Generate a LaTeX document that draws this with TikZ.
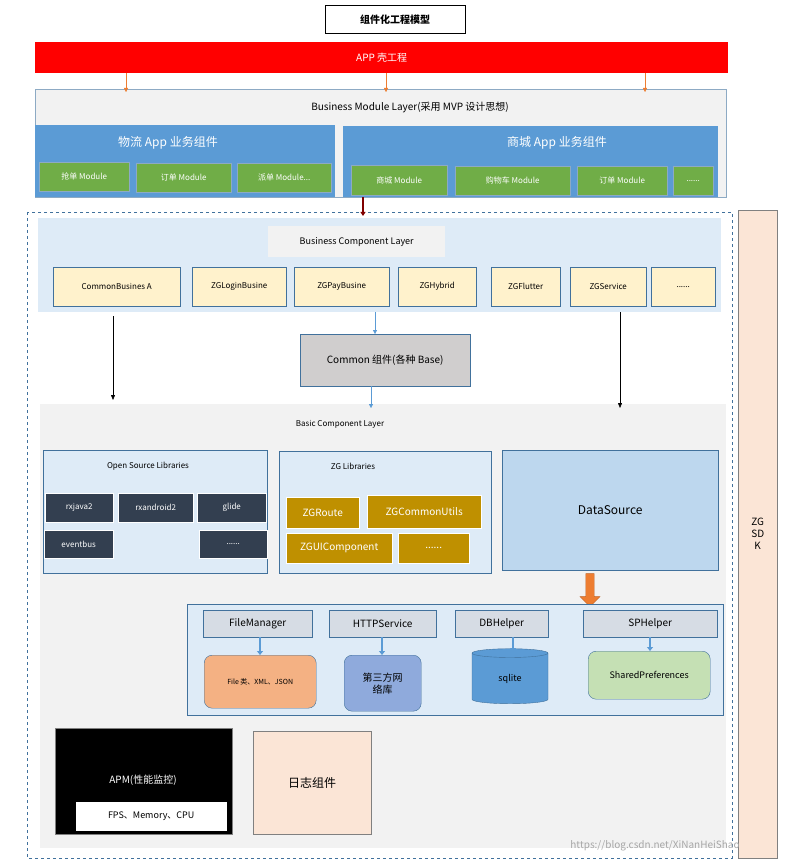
\documentclass[tikz,border=0pt]{standalone}
\usepackage{fontspec}
\setmainfont{Noto Sans CJK SC}
\usetikzlibrary{positioning,shapes.geometric,shapes.arrows,arrows.meta}
\definecolor{appred}{HTML}{FF0000}
\definecolor{layergray}{HTML}{F2F2F2}
\definecolor{bizblue}{HTML}{5B9BD5}
\definecolor{modgreen}{HTML}{70AD47}
\definecolor{paleblue}{HTML}{DEEBF7}
\definecolor{midblue}{HTML}{BDD7EE}
\definecolor{edgeblue}{HTML}{41719C}
\definecolor{paleyellow}{HTML}{FFF2CC}
\definecolor{darkslate}{HTML}{333F50}
\definecolor{gold}{HTML}{BF9000}
\definecolor{peach}{HTML}{FBE5D6}
\definecolor{helpergray}{HTML}{D6DCE4}
\definecolor{commongray}{HTML}{D0CECE}
\definecolor{arroworange}{HTML}{ED7D31}
\definecolor{spgreen}{HTML}{C5E0B4}
\definecolor{netblue}{HTML}{8FAADC}
\definecolor{fileorange}{HTML}{F4B183}
\tikzset{
  box/.style={draw=edgeblue, anchor=north west, inner sep=1pt, font=\small, align=center},
  module/.style={box, fill=modgreen, draw=edgeblue!60, text=white, font=\footnotesize},
  bizcomp/.style={box, fill=paleyellow, font=\footnotesize},
  oss/.style={box, fill=darkslate, draw=white, text=white, font=\footnotesize},
  zglib/.style={box, fill=gold, draw=white, text=white, font=\normalsize},
  helper/.style={box, fill=helpergray, font=\normalsize},
  store/.style={box, rounded corners=8pt},
  down/.style={-{Triangle[length=4pt,width=6pt]}, line width=2pt, draw=bizblue},
  small/.style={-{Triangle[length=4pt,width=4pt]}, draw=arroworange},
}
\begin{document}
\begin{tikzpicture}[x=1pt,y=-1pt]
    \useasboundingbox (0,0) rectangle (789,866);
    % top
    \node[box, draw=black, font=\bfseries, minimum width=140pt, minimum height=28pt] (title) at (325,5) {组件化工程模型};
    \node[box, draw=none, fill=appred, text=white, font=\normalsize, minimum width=693pt, minimum height=31pt] (app) at (35,42) {APP 壳工程};
    \node[box, fill=layergray, draw=edgeblue!60, minimum width=691pt, minimum height=108pt] (bml) at (35,89) {};
    \node[font=\normalsize] at (410,107) {Business Module Layer(采用 MVP 设计思想)};
    \foreach \x in {126,386,645}
        \draw[small] (\x,73) -- (\x,92);
    % business modules
    \node[box, fill=bizblue, draw=none, minimum width=300pt, minimum height=72pt] (wl) at (35,125) {};
    \node[text=white, font=\large] at (168,143) {物流 App 业务组件};
    \node[module, minimum width=90pt, minimum height=29pt] (qd) at (39,162) {抢单 Module};
    \node[module, minimum width=95pt, minimum height=29pt] (dd) at (136,163) {订单 Module};
    \node[module, minimum width=94pt, minimum height=29pt] (pd) at (237,163) {派单 Module...};
    \node[box, fill=bizblue, draw=none, minimum width=375pt, minimum height=71pt] (sc) at (343,126) {};
    \node[text=white, font=\large] at (557,143) {商城 App 业务组件};
    \node[module, minimum width=96pt, minimum height=30pt] (scm) at (351,165) {商城 Module};
    \node[module, minimum width=115pt, minimum height=29pt] (gwc) at (455,166) {购物车 Module};
    \node[module, minimum width=90pt, minimum height=29pt] (ddm) at (577,166) {订单 Module};
    \node[module, minimum width=40pt, minimum height=29pt] (more1) at (673,166) {......};
    % sdk frame
    \draw[dashed, edgeblue] (27,212) rectangle (732,858);
    \node[box, fill=peach, draw=gray, minimum width=39pt, minimum height=648pt] (sdk) at (738,210) {};
    \node[align=center, font=\normalsize] at (sdk.center) {ZG\\SD\\K};
    \draw[-{Triangle[length=4pt,width=5pt]}, line width=1.5pt, draw=red!50!black] (363,197) -- (363,216);
    % business component layer
    \node[box, fill=paleblue, draw=none, minimum width=683pt, minimum height=94pt] (bcl) at (38,218) {};
    \node[box, fill=layergray, draw=none, font=\small, minimum width=177pt, minimum height=31pt] (bclt) at (268,226) {Business Component Layer};
    \node[bizcomp, minimum width=127pt, minimum height=39pt] (cba) at (53,267) {CommonBusines A};
    \node[bizcomp, minimum width=94pt, minimum height=39pt] (login) at (192,267) {ZGLoginBusine};
    \node[bizcomp, minimum width=95pt, minimum height=39pt] (pay) at (294,267) {ZGPayBusine};
    \node[bizcomp, minimum width=78pt, minimum height=39pt] (hyb) at (398,267) {ZGHybrid};
    \node[bizcomp, minimum width=69pt, minimum height=39pt] (flt) at (491,267) {ZGFlutter};
    \node[bizcomp, minimum width=76pt, minimum height=39pt] (svc) at (570,267) {ZGService};
    \node[bizcomp, minimum width=64pt, minimum height=39pt] (more2) at (651,267) {......};
    \node[box, fill=commongray, font=\normalsize, minimum width=170pt, minimum height=52pt] (common) at (300,334) {Common 组件(各种 Base)};
    \draw[-{Triangle[length=4pt,width=4pt]}, bizblue] (375,312) -- (375,334);
    % basic component layer
    \node[box, fill=layergray, draw=none, minimum width=686pt, minimum height=444pt] (basic) at (40,404) {};
    \node[font=\footnotesize] at (340,424) {Basic Component Layer};
    \draw[-{Triangle[length=5pt,width=4pt]}] (113,316) -- (113,400);
    \draw[-{Triangle[length=5pt,width=4pt]}] (620,312) -- (620,408);
    \draw[-{Triangle[length=4pt,width=4pt]}, bizblue] (371,386) -- (371,408);
    \node[box, fill=paleblue, minimum width=224pt, minimum height=123pt] (osl) at (43,450) {};
    \node[font=\footnotesize] at (148,466) {Open Source Libraries};
    \node[oss, minimum width=68pt, minimum height=29pt] (rxj) at (45,493) {rxjava2};
    \node[oss, minimum width=75pt, minimum height=29pt] (rxa) at (118,493) {rxandroid2};
    \node[oss, minimum width=69pt, minimum height=29pt] (gld) at (197,493) {glide};
    \node[oss, minimum width=69pt, minimum height=28pt] (evb) at (44,530) {eventbus};
    \node[oss, minimum width=68pt, minimum height=28pt] (more3) at (199,530) {......};
    \node[box, fill=paleblue, minimum width=212pt, minimum height=122pt] (zgl) at (279,451) {};
    \node[font=\footnotesize] at (353,466) {ZG Libraries};
    \node[zglib, minimum width=73pt, minimum height=31pt] (route) at (286,497) {ZGRoute};
    \node[zglib, minimum width=114pt, minimum height=33pt] (utils) at (367,495) {ZGCommonUtils};
    \node[zglib, minimum width=106pt, minimum height=30pt] (ui) at (286,533) {ZGUIComponent};
    \node[zglib, minimum width=71pt, minimum height=30pt] (more4) at (398,533) {......};
    \node[box, fill=midblue, font=\large, minimum width=216pt, minimum height=120pt] (ds) at (502,450) {DataSource};
    \node[single arrow, fill=arroworange, draw=arroworange!80!black, shape border rotate=270, minimum height=33pt, minimum width=20pt, single arrow head extend=3pt, inner sep=2pt] (bigarr) at (590,588) {};
    % data storage
    \node[box, fill=paleblue, minimum width=536pt, minimum height=111pt] (store) at (187,604) {};
    \node[helper, minimum width=109pt, minimum height=27pt] (fm) at (203,610) {FileManager};
    \node[helper, minimum width=107pt, minimum height=27pt] (http) at (329,610) {HTTPService};
    \node[helper, minimum width=93pt, minimum height=27pt] (db) at (455,610) {DBHelper};
    \node[helper, minimum width=134pt, minimum height=27pt] (sp) at (583,610) {SPHelper};
    \node[store, fill=fileorange, font=\scriptsize, minimum width=112pt, minimum height=53pt] (file) at (204,655) {File 类、XML、JSON};
    \node[store, fill=netblue, font=\normalsize, minimum width=77pt, minimum height=56pt] (net) at (344,655) {第三方网\\络库};
    \node[cylinder, draw=edgeblue, fill=bizblue, shape border rotate=90, aspect=0.35, minimum width=76pt, minimum height=55pt, font=\small, inner sep=1pt] (sql) at (510,679) {sqlite};
    \node[store, fill=spgreen, minimum width=122pt, minimum height=48pt, font=\small] (spf) at (588,651) {SharedPreferences};
    \draw[down] (260,637) -- (260,655);
    \draw[down] (382,637) -- (382,655);
    \draw[down] (513,637) -- (513,652);
    \draw[down] (650,637) -- (650,651);
    % bottom
    \node[box, fill=black, draw=gray, minimum width=177pt, minimum height=106pt] (apm) at (55,728) {};
    \node[text=white, font=\normalsize] at (143,780) {APM(性能监控)};
    \node[box, fill=white, draw=white, font=\small, minimum width=150pt, minimum height=28pt] (fps) at (76,802) {FPS、Memory、CPU};
    \node[box, fill=peach, draw=gray, font=\large, minimum width=118pt, minimum height=103pt] (log) at (253,731) {日志组件};
    \node[gray!70, font=\normalsize] at (655,846) {https://blog.csdn.net/XiNanHeiShao};
\end{tikzpicture}
\end{document}
